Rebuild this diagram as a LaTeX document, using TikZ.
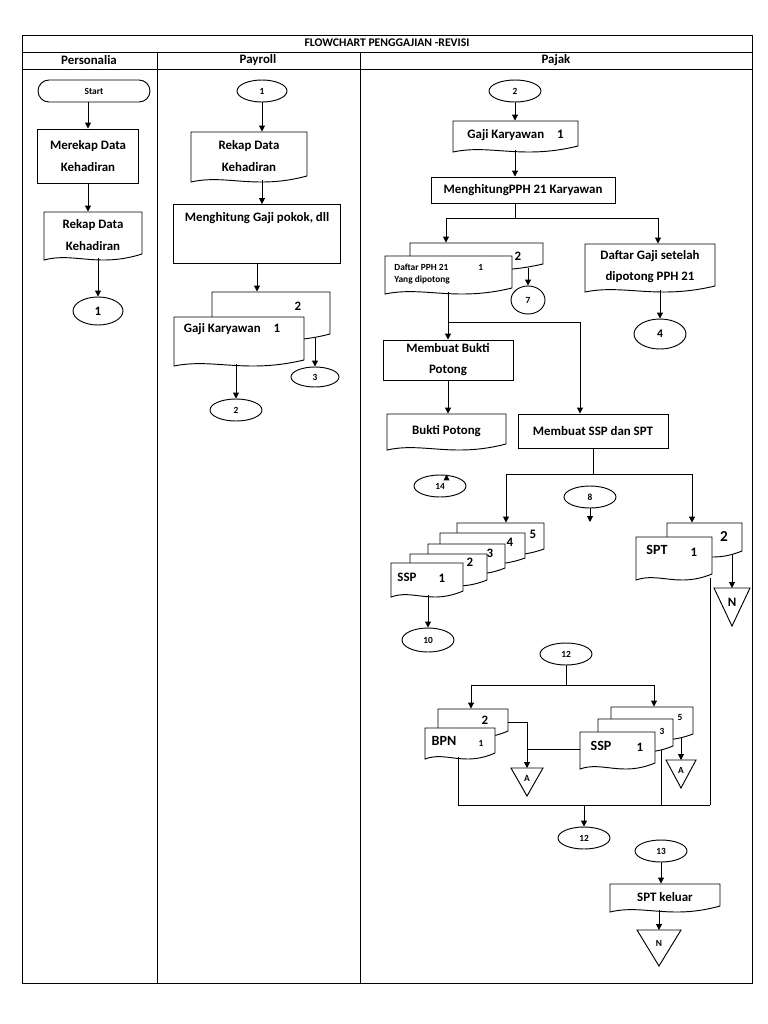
\documentclass[tikz,border=0pt]{standalone}
\usepackage{fontspec}
\setmainfont{Carlito}
\usetikzlibrary{positioning,shapes.geometric,arrows.meta}

% document shape: name, x1, y1, x2, y2, text
\newcommand\docbox[6]{%
  \pgfmathsetmacro\dcw{#4-#2}\pgfmathsetmacro\dch{#5-#3}
  \draw[fill=white] (#2,#3) -- (#4,#3) -- (#4,#5-4)
    .. controls (#2+0.55*\dcw,#5+10) and (#2+0.3*\dcw,#5-6) .. (#2,#5+2) -- cycle;
  \node[box,minimum width=\dcw*0.03cm,minimum height=\dch*0.03cm] (#1) at ({(#2+#4)/2},{(#3+#5)/2}) {#6};}
% off-page triangle: name, x, ytop, w, h, text
\newcommand\tri[6]{%
  \draw[fill=white] (#2-#4/2,#3) -- (#2+#4/2,#3) -- (#2,#3+#5) -- cycle;
  \coordinate (#1-top) at (#2,#3);
  \node[small] (#1) at (#2,#3+#5*0.38) {#6};}

\tikzset{
  sz/.style 2 args={minimum width=#1*0.03cm, minimum height=#2*0.03cm},
  box/.style={inner sep=0pt, align=center},
  proc/.style={draw, inner sep=0pt, align=center},
  term/.style={draw, ellipse, inner sep=0pt, font=\bfseries\fontsize{8}{10}\selectfont},
  small/.style={font=\bfseries\fontsize{8}{11}\selectfont},
  arr/.style={-{Triangle[length=5pt,width=5pt]}}
}

\begin{document}
\begin{tikzpicture}[x=0.03cm, y=-0.03cm, line width=0.8pt,
  font=\bfseries\fontsize{11}{18}\selectfont]
  \useasboundingbox (0,0) rectangle (768,1024);

  % frame and lanes
  \draw (22,35) rectangle (752,983);
  \draw (22,52) -- (752,52);
  \draw (22,69) -- (752,69);
  \draw (157,52) -- (157,983);
  \draw (360,52) -- (360,983);
  \node[font=\bfseries\fontsize{10}{12}\selectfont] (title) at (387,43) {FLOWCHART PENGGAJIAN -REVISI};
  \node (hpers) at (89,60) {Personalia};
  \node (hpay) at (258,60) {Payroll};
  \node (hpaj) at (556,60) {Pajak};

  % Personalia
  \node[draw, rounded corners=0.33cm, sz={112}{22}, small] (start) at (94,91) {Start};
  \node[proc, sz={101}{54}] (rekap) at (88,156) {Merekap Data\\Kehadiran};
  \docbox{dkh}{44}{212}{142}{258}{Rekap Data\\Kehadiran}
  \node[term, sz={50}{28}, font=\bfseries\fontsize{11}{12}\selectfont] (c1) at (98,311) {1};

  \draw[arr] (rekap.north |- start.south) -- (rekap.north);
  \draw[arr] (rekap.south) -- (rekap.south |- dkh.north);
  \draw[arr] (c1.north |- dkh.south) -- (c1.north);

  % Payroll
  \node[term, sz={50}{22}] (p1) at (262,91) {1};
  \docbox{prk}{191}{132}{307}{180}{Rekap Data\\Kehadiran}
  \node[proc, sz={167}{59}] (hitung) at (257,234) {};
  \node (hitungtx) at (257,218) {Menghitung Gaji pokok, dll};
  \docbox{gk2}{212}{292}{330}{338}{}
  \node (gk2n) at (298,306) {2};
  \docbox{gk1}{174}{317}{304}{364}{}
  \node (gk1t) at (232,329) {Gaji Karyawan\quad 1};
  \node[term, sz={48}{20}] (p3) at (315,377) {3};
  \node[term, sz={52}{22}] (p2) at (236,410) {2};

  \draw[arr] (p1.south) -- (p1.south |- prk.north);
  \draw[arr] (p1.south |- prk.south) -- (p1.south |- hitung.north);
  \draw[arr] (hitung.south) -- (hitung.south |- gk2.north);
  \draw[arr] (p3.north |- gk2.south) -- (p3.north);
  \draw[arr] (p2.north |- gk1.south) -- (p2.north);

  % Pajak
  \node[term, sz={52}{22}] (j2) at (515,91) {2};
  \docbox{jgk}{453}{121}{578}{150}{Gaji Karyawan\quad 1}
  \node[proc, sz={184}{26}] (pph) at (523,190) {MenghitungPPH 21 Karyawan};
  \coordinate (s1) at (515,218);
  \coordinate (s1l) at (446,218);
  \coordinate (s1r) at (658,218);

  \docbox{dp2}{410}{243}{543}{268}{}
  \node (dp2n) at (518,256) {2};
  \docbox{dp1}{385}{256}{512}{292}{}
  \node[small, align=left, anchor=west] (dp1t) at (390,274) {Daftar PPH 21\hspace{3.2em}1\\Yang dipotong};
  \node[term, sz={34}{28}] (j7) at (528,300) {7};
  \docbox{dg}{585}{244}{715}{290}{Daftar Gaji setelah\\dipotong PPH 21}
  \node[term, sz={52}{30}, font=\bfseries\fontsize{10}{12}\selectfont] (j4) at (660,334) {4};

  \draw[arr] (j2.south) -- (j2.south |- jgk.north);
  \draw[arr] (j2.south |- jgk.south) -- (j2.south |- pph.north);
  \draw (j2.south |- pph.south) -- (s1);
  \draw (s1l) -- (s1r);
  \draw[arr] (s1l) -- (s1l |- dp2.north);
  \draw[arr] (s1r) -- (s1r |- dg.north);
  \draw[arr] (j7.north |- dp2.south) -- (j7.north);
  \draw[arr] (j4.north |- dg.south) -- (j4.north);

  \node[proc, sz={130}{40}] (bukti) at (448,360) {Membuat Bukti\\Potong};
  \node[proc, sz={150}{34}] (sspspt) at (593,431) {Membuat SSP dan SPT};
  \docbox{dbp}{387}{414}{506}{448}{Bukti Potong}
  \node[term, sz={52}{22}] (j14) at (440,486) {14};
  \coordinate (s2) at (448,322);
  \coordinate (s2r) at (580,322);

  \draw[arr] (bukti.north |- dp1.south) -- (bukti.north);
  \draw[arr] (s2) -- (s2r) -- (s2r |- sspspt.north);
  \draw[arr] (bukti.south) -- (bukti.south |- dbp.north);
  \draw[arr] (j14.north -| dbp.south) ++(0,2) coordinate (dbpb) -- (dbpb |- j14.north);

  % SSP and SPT
  \coordinate (s3) at (594,474);
  \coordinate (s3l) at (506,474);
  \coordinate (s3r) at (692,474);
  \node[term, sz={52}{22}] (j8) at (590,497) {8};
  \coordinate (j8e) at (590,522);

  \docbox{ss5}{457}{523}{544}{553}{}
  \node (ss5n) at (533,534) {5};
  \docbox{ss4}{440}{533}{525}{562}{}
  \node (ss4n) at (510,542) {4};
  \docbox{ss3}{428}{544}{505}{572}{}
  \node (ss3n) at (490,553) {3};
  \docbox{ss2}{410}{554}{487}{584}{}
  \node (ss2n) at (470,562) {2};
  \docbox{ss1}{391}{563}{463}{595}{}
  \node (ss1t) at (407,577) {SSP};
  \node (ss1n) at (442,578) {1};
  \node[term, sz={52}{24}] (j10) at (428,640) {10};

  \docbox{sp2}{667}{523}{742}{555}{}
  \node[font=\bfseries\fontsize{13}{14}\selectfont] (sp2n) at (724,536) {2};
  \docbox{sp1}{636}{537}{712}{578}{}
  \node[font=\bfseries\fontsize{12}{14}\selectfont] (sp1t) at (657,550) {SPT};
  \node (sp1n) at (694,552) {1};
  \tri{tN1}{732}{588}{36}{38}{\fontsize{11}{12}\selectfont N}

  \draw (sspspt.south) -- (sspspt.south |- s3);
  \draw (s3l) -- (s3r);
  \draw[arr] (s3l) -- (s3l |- ss5.north);
  \draw[arr] (s3r) -- (s3r |- sp2.north);
  \draw[arr] (j8) -- (j8e);
  \draw[arr] (j10.north |- ss1.south) -- (j10.north);
  \draw[arr] (tN1-top |- sp2.south) -- (tN1-top);

  % BPN and SSP
  \node[term, sz={52}{22}] (j12a) at (566,654) {12};
  \coordinate (s4) at (566,685);
  \coordinate (s4l) at (471,685);
  \coordinate (s4r) at (654,685);

  \docbox{bp2}{438}{709}{508}{735}{}
  \node (bp2n) at (485,720) {2};
  \docbox{bp1}{425}{728}{495}{757}{}
  \node[font=\bfseries\fontsize{12}{14}\selectfont] (bp1t) at (444,741) {BPN};
  \node[small] (bp1n) at (481,743) {1};
  \tri{tA1}{527}{768}{32}{28}{A}

  \docbox{sr5}{611}{707}{693}{738}{}
  \node[small] (sr5n) at (680,717) {5};
  \docbox{sr3}{598}{719}{673}{750}{}
  \node[small] (sr3n) at (662,731) {3};
  \docbox{sr1}{580}{732}{655}{767}{}
  \node[font=\bfseries\fontsize{12}{14}\selectfont] (sr1t) at (601,746) {SSP};
  \node (sr1n) at (640,747) {1};
  \tri{tA2}{681}{760}{30}{28}{A}

  \coordinate (bL) at (458,805);
  \coordinate (bM) at (661,805);
  \coordinate (bR) at (710,805);
  \node[term, sz={52}{22}] (j12b) at (584,838) {12};

  \draw (j12a.south) -- (s4);
  \draw (s4l) -- (s4r);
  \draw[arr] (s4l) -- (s4l |- bp2.north);
  \draw[arr] (s4r) -- (s4r |- sr5.north);
  \draw[arr] (bp2.east) -| (tA1-top);
  \draw (tA1-top |- sr1.west) -- (sr1.west);
  \draw[arr] (tA2-top |- sr5.south) -- (tA2-top);
  \draw (bL |- bp1.south) -- (bL) -- (bR);
  \draw (bM) -- (bM |- sr3.south);
  \draw (bR |- sp1.south) -- (bR);
  \draw[arr] (bL -| j12b) -- (j12b.north);

  % SPT keluar
  \node[term, sz={52}{22}] (j13) at (661,851) {13};
  \docbox{sptk}{610}{884}{720}{910}{SPT keluar}
  \tri{tN2}{659}{930}{44}{36}{N}

  \draw[arr] (j13.south) -- (j13.south |- sptk.north);
  \draw[arr] (tN2-top |- sptk.south) -- (tN2-top);
\end{tikzpicture}
\end{document}
